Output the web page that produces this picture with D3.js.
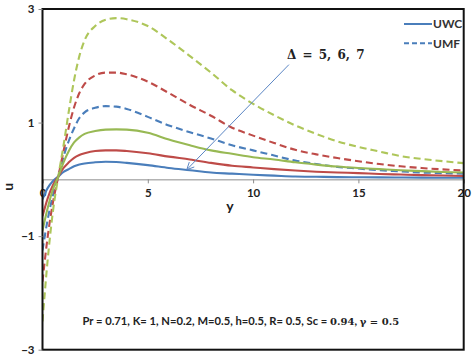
<!DOCTYPE html>
<html>
<head>
<meta charset="utf-8">
<script src="https://cdn.jsdelivr.net/npm/d3@7"></script>
<style>
  html, body { margin: 0; padding: 0; background: #fff; }
  svg { display: block; }
</style>
</head>
<body>
<svg id="chart" width="474" height="357"></svg>
<script>
// ---- data ----
const yGrid = [0, 0.25, 0.5, 0.75, 1, 1.25, 1.5, 1.75, 2, 2.5, 3, 3.5, 4, 5, 6, 7, 8, 9, 10, 11, 12, 13, 14, 15, 16, 17, 18, 19, 20];

// UWC (solid) for Delta = 5, 6, 7
const uwc5 = [-0.35, -0.15, -0.03, 0.05, 0.13, 0.18, 0.23, 0.26, 0.28, 0.30, 0.31, 0.305, 0.29, 0.25, 0.20, 0.16, 0.12, 0.10, 0.08, 0.065, 0.05, 0.045, 0.04, 0.037, 0.034, 0.032, 0.03, 0.029, 0.028];
const uwc6 = [-0.65, -0.33, -0.10, 0.05, 0.20, 0.30, 0.38, 0.43, 0.46, 0.50, 0.51, 0.51, 0.50, 0.46, 0.40, 0.35, 0.29, 0.24, 0.21, 0.18, 0.155, 0.135, 0.12, 0.11, 0.095, 0.085, 0.075, 0.067, 0.06];
const uwc7 = [-0.90, -0.50, -0.17, 0.05, 0.30, 0.50, 0.65, 0.74, 0.80, 0.85, 0.875, 0.88, 0.875, 0.82, 0.70, 0.60, 0.51, 0.45, 0.39, 0.35, 0.30, 0.26, 0.225, 0.20, 0.18, 0.16, 0.145, 0.13, 0.12];

// UMF (dashed) for Delta = 5, 6, 7
const umf5 = [-1.25, -0.70, -0.27, 0.05, 0.40, 0.68, 0.90, 1.08, 1.18, 1.26, 1.29, 1.28, 1.24, 1.10, 0.95, 0.83, 0.72, 0.60, 0.51, 0.42, 0.33, 0.27, 0.22, 0.19, 0.16, 0.14, 0.12, 0.11, 0.10];
const umf6 = [-1.80, -1.00, -0.40, 0.05, 0.50, 0.92, 1.27, 1.52, 1.68, 1.83, 1.88, 1.88, 1.85, 1.72, 1.52, 1.31, 1.12, 0.91, 0.77, 0.64, 0.52, 0.44, 0.375, 0.32, 0.27, 0.23, 0.20, 0.175, 0.155];
const umf7 = [-2.50, -1.40, -0.55, 0.05, 0.60, 1.20, 1.75, 2.17, 2.45, 2.70, 2.81, 2.84, 2.82, 2.70, 2.45, 2.17, 1.88, 1.57, 1.33, 1.13, 0.95, 0.80, 0.67, 0.57, 0.49, 0.41, 0.36, 0.32, 0.285];

const xTicks = [0, 5, 10, 15, 20];
const yTicks = [-3, -1, 1, 3];
const legendLabels = ["UWC", "UMF"];
const annotationText = "Δ = 5, 6, 7";
const paramText = ["Pr = 0.71, K= 1, N=0.2, M=0.5, h=0.5, R= 0.5,  Sc = ", "0.94", ",  ", "γ = 0.5"];
const arrowFrom = [11.7, 2.02];
const arrowTo = [6.85, 0.17];

// ---- layout ----
const svg = d3.select("#chart");
const L = 42.5, R = 463.7, T = 9, B = 349.7;
const x = d3.scaleLinear().domain([0, 20]).range([L, R]);
const y = d3.scaleLinear().domain([-3, 3]).range([B, T]);

const colors = { blue: "#4A7EBB", red: "#BE4B48", green: "#98B954", greenD: "#AEC65A" };
const series = [
  { v: umf5, c: colors.blue, dash: "7,4" },
  { v: umf6, c: colors.red, dash: "7,4" },
  { v: umf7, c: colors.greenD, dash: "7,4" },
  { v: uwc5, c: colors.blue, dash: null },
  { v: uwc6, c: colors.red, dash: null },
  { v: uwc7, c: colors.green, dash: null }
];

svg.append("defs").append("clipPath").attr("id", "clip")
  .append("rect").attr("x", L).attr("y", T).attr("width", R - L).attr("height", B - T);

// x axis at u = 0
const xAxis = d3.axisBottom(x).tickValues(xTicks).tickSize(4).tickFormat(d3.format("d"));
const gx = svg.append("g").attr("transform", `translate(0,${y(0)})`).call(xAxis);
gx.select(".domain").attr("stroke", "#8c8c8c").attr("stroke-width", 1);
gx.selectAll(".tick line").attr("stroke", "#8c8c8c");
gx.selectAll(".tick text").attr("font-family", "Lato, 'Open Sans', sans-serif")
  .attr("font-weight", "bold").attr("font-size", 11.5).attr("fill", "#222").attr("dy", "0.9em");

// lines
const line = d3.line().x((d, i) => x(yGrid[i])).y(d => y(d)).curve(d3.curveMonotoneX);
const gl = svg.append("g").attr("clip-path", "url(#clip)");
series.forEach(s => {
  gl.append("path").datum(s.v).attr("d", line)
    .attr("fill", "none").attr("stroke", s.c).attr("stroke-width", 2.1)
    .attr("stroke-dasharray", s.dash);
});

// frame
svg.append("rect").attr("x", L).attr("y", T).attr("width", R - L).attr("height", B - T)
  .attr("fill", "none").attr("stroke", "#111").attr("stroke-width", 2);

// y axis
const yAxis = d3.axisLeft(y).tickValues(yTicks).tickSize(4).tickFormat(d3.format("d"));
const gy = svg.append("g").attr("transform", `translate(${L},0)`).call(yAxis);
gy.select(".domain").remove();
gy.selectAll(".tick line").attr("stroke", "#8c8c8c");
gy.selectAll(".tick text").attr("font-family", "Lato, 'Open Sans', sans-serif")
  .attr("font-weight", "bold").attr("font-size", 11.5).attr("fill", "#222").attr("x", -8);

// axis titles
svg.append("text").attr("transform", `translate(13,${y(-0.13)}) rotate(-90)`)
  .attr("text-anchor", "middle").attr("font-family", "Lato, sans-serif").attr("font-weight", "bold")
  .attr("font-size", 14).attr("fill", "#222").text("u");
svg.append("text").attr("x", x(8.9)).attr("y", y(-0.55))
  .attr("text-anchor", "middle").attr("font-family", "Lato, sans-serif").attr("font-weight", "bold")
  .attr("font-size", 14).attr("fill", "#222").text("y");

// legend
const lg = svg.append("g");
legendLabels.forEach((lab, i) => {
  const ly = 24 + i * 19.3;
  lg.append("line").attr("x1", 404).attr("x2", 432).attr("y1", ly).attr("y2", ly)
    .attr("stroke", colors.blue).attr("stroke-width", 2)
    .attr("stroke-dasharray", i === 1 ? "5,3" : null);
  lg.append("text").attr("x", 433).attr("y", ly).attr("dy", "0.35em")
    .attr("font-family", "Lato, sans-serif").attr("font-weight", "bold").attr("font-size", 12)
    .attr("fill", "#333").text(lab);
});

// annotation + arrow
svg.append("text").attr("x", 287).attr("y", 55).attr("dy", "0.35em")
  .attr("font-family", "'DejaVu Serif', serif").attr("font-weight", "bold").attr("font-size", 12)
  .attr("word-spacing", 2).attr("fill", "#222").text(annotationText);

const ax1 = x(arrowFrom[0]), ay1 = y(arrowFrom[1]), ax2 = x(arrowTo[0]), ay2 = y(arrowTo[1]);
svg.append("line").attr("x1", ax1).attr("y1", ay1).attr("x2", ax2).attr("y2", ay2)
  .attr("stroke", "#5b86c4").attr("stroke-width", 1);
const ang = Math.atan2(ay2 - ay1, ax2 - ax1);
const hl = 8, hw = 0.45;
const hp = d3.path();
hp.moveTo(ax2 - hl * Math.cos(ang - hw), ay2 - hl * Math.sin(ang - hw));
hp.lineTo(ax2, ay2);
hp.lineTo(ax2 - hl * Math.cos(ang + hw), ay2 - hl * Math.sin(ang + hw));
svg.append("path").attr("d", hp.toString()).attr("fill", "none").attr("stroke", "#5b86c4").attr("stroke-width", 1);

// parameter text
const pt = svg.append("text").attr("x", 82.5).attr("y", 321).attr("dy", "0.35em")
  .attr("font-family", "Lato, sans-serif").attr("font-size", 11.2).attr("font-weight", "bold").attr("fill", "#222");
pt.append("tspan").text(paramText[0]);
pt.append("tspan").attr("font-family", "'DejaVu Serif', serif").attr("font-size", 10).text(paramText[1]);
pt.append("tspan").text(paramText[2]);
pt.append("tspan").attr("font-family", "'DejaVu Serif', serif").attr("font-size", 10).text(paramText[3]);
</script>
</body>
</html>
